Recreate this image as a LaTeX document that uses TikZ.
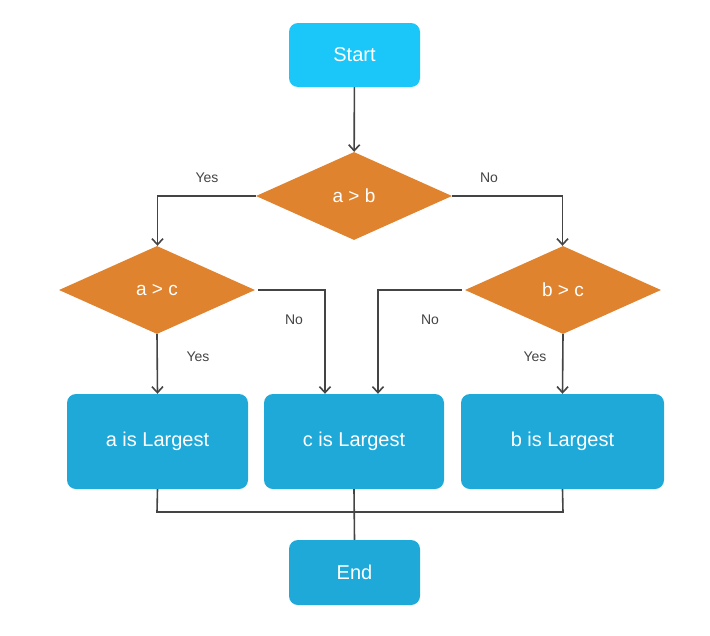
\documentclass[tikz,border=0pt]{standalone}
\usepackage{fontspec}
\setmainfont{Liberation Sans}
\usetikzlibrary{shapes.geometric,arrows.meta}
\definecolor{startc}{HTML}{1BC6F8}
\definecolor{boxc}{HTML}{1EA9D9}
\definecolor{dia}{HTML}{E0832F}
\definecolor{ln}{HTML}{444444}
\begin{document}
\begin{tikzpicture}[x=1pt,y=-1pt,
 box/.style={rounded corners=9pt,draw=none,text=white,font=\fontsize{20}{24}\selectfont},
 dm/.style={diamond,fill=dia,text=white,inner sep=0pt,minimum width=196pt,minimum height=88pt,font=\fontsize{19}{22}\selectfont},
 lab/.style={text=ln,font=\fontsize{14}{17}\selectfont},
 ar/.style={draw=ln,line width=1.6pt,-{Straight Barb[length=6pt,width=11pt]}},
 pl/.style={draw=ln,line width=1.6pt}]
\useasboundingbox (0,0) rectangle (710,635);
\node[box,fill=startc,minimum width=131pt,minimum height=64pt] (start) at (354.5,55) {Start};
\node[dm] (d1) at (354,196) {a > b};
\node[dm] (d2) at (157,290) {a > c};
\node[dm] (d3) at (563,290) {b > c};
\node[box,fill=boxc,minimum width=181pt,minimum height=95pt] (ba) at (157.5,441.5) {a is Largest};
\node[box,fill=boxc,minimum width=180pt,minimum height=95pt] (bc) at (354,441.5) {c is Largest};
\node[box,fill=boxc,minimum width=203pt,minimum height=95pt] (bb) at (562.5,441.5) {b is Largest};
\node[box,fill=boxc,minimum width=131pt,minimum height=65pt] (end) at (354.5,572.5) {End};
\coordinate (j1) at (157,512); \coordinate (j2) at (563,512); \coordinate (j3) at (354,512);
\draw[ar] (start) -- (d1);
\draw[ar] (d1.west) -| (ba.north |- d2.north);
\draw[ar] (d1.east) -| (bb.north |- d3.north);
\draw[ar] (d2.south) -- (ba.north);
\draw[ar] (d3.south) -- (bb.north);
\draw[ar] ([xshift=3pt]d2.east) -| ([xshift=-29pt]bc.north);
\draw[ar] ([xshift=-3pt]d3.west) -| ([xshift=24pt]bc.north);
\draw[pl] (ba.south) -- (j1) -- (j2) -- (bb.south);
\draw[pl] (bc.south) -- (end.north);
\node[lab] at (207,178) {Yes};
\node[lab] at (489,178) {No};
\node[lab] at (294,320) {No};
\node[lab] at (430,320) {No};
\node[lab] at (198,357) {Yes};
\node[lab] at (535,357) {Yes};
\end{tikzpicture}
\end{document}
